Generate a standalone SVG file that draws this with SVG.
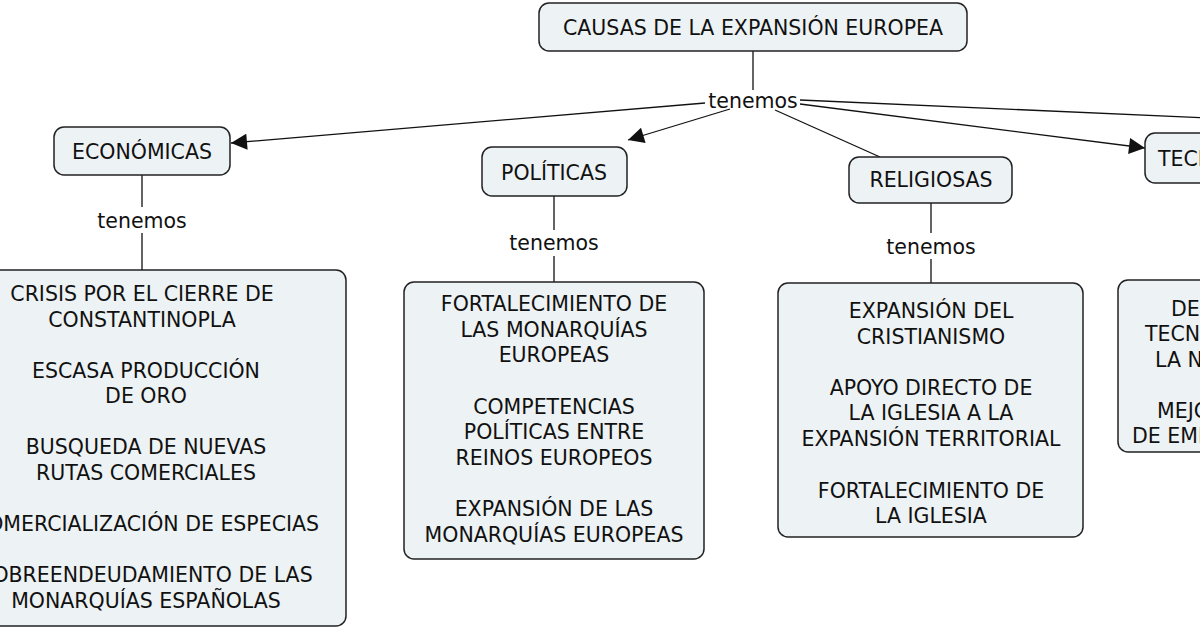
<svg xmlns="http://www.w3.org/2000/svg" width="1200" height="630" viewBox="0 0 1200 630">
<style>
.n{fill:#edf2f4;stroke:#222;stroke-width:1.5}
text{font-family:"DejaVu Sans",Verdana,sans-serif;font-size:20.5px;fill:#111;text-anchor:middle}
.l{stroke:#111;stroke-width:1.3;fill:none}
.a{marker-end:url(#a)}
</style>
<defs><marker id="a" viewBox="0 0 10 10" refX="10" refY="5" markerWidth="20" markerHeight="16" markerUnits="userSpaceOnUse" orient="auto"><path d="M0,0L10,5L0,10z" fill="#111"/></marker></defs>
<rect width="1200" height="630" fill="#fff"/>
<g id="connectors">
<path class="l" d="M753,51V90"/>
<path class="l a" d="M705,103L231,143"/>
<path class="l a" d="M730,109L628,140"/>
<path class="l" d="M775,110L880,157"/>
<path class="l a" d="M800,104L1145,148"/>
<path class="l" d="M800,100L1210,118"/>
<path class="l" d="M142,175V207M142,233V270"/>
<path class="l" d="M554,196V230M554,256V282"/>
<path class="l" d="M931,203V233M931,259V283"/>
<text x="753" y="108">tenemos</text>
<text x="142" y="228">tenemos</text>
<text x="554" y="250">tenemos</text>
<text x="931" y="254">tenemos</text>
</g>
<g id="root"><rect class="n" x="539" y="3" width="428" height="48" rx="10"/><text x="753" y="35">CAUSAS DE LA EXPANSIÓN EUROPEA</text></g>
<g id="eco"><rect class="n" x="54" y="127" width="176" height="48" rx="10"/><text x="142" y="159">ECONÓMICAS</text></g>
<g id="pol"><rect class="n" x="482" y="147" width="145" height="49" rx="10"/><text x="554" y="180">POLÍTICAS</text></g>
<g id="rel"><rect class="n" x="849" y="157" width="163" height="46" rx="10"/><text x="931" y="187">RELIGIOSAS</text></g>
<g id="tec"><rect class="n" x="1145" y="133" width="75" height="50" rx="10"/><text x="1158" y="166" style="text-anchor:start">TECNOLÓGICAS</text></g>
<g id="eco-d"><rect class="n" x="-12" y="270" width="358" height="356" rx="10"/>
<text x="142" y="301">CRISIS POR EL CIERRE DE</text><text x="142" y="327">CONSTANTINOPLA</text>
<text x="146" y="378">ESCASA PRODUCCIÓN</text><text x="146" y="403">DE ORO</text>
<text x="146" y="454">BUSQUEDA DE NUEVAS</text><text x="146" y="480">RUTAS COMERCIALES</text>
<text x="146" y="531">COMERCIALIZACIÓN DE ESPECIAS</text>
<text x="146" y="582">SOBREENDEUDAMIENTO DE LAS</text><text x="146" y="608">MONARQUÍAS ESPAÑOLAS</text></g>
<g id="pol-d"><rect class="n" x="404" y="282" width="300" height="277" rx="10"/>
<text x="554" y="311">FORTALECIMIENTO DE</text><text x="554" y="337">LAS MONARQUÍAS</text><text x="554" y="362">EUROPEAS</text>
<text x="554" y="414">COMPETENCIAS</text><text x="554" y="439">POLÍTICAS ENTRE</text><text x="554" y="465">REINOS EUROPEOS</text>
<text x="554" y="516">EXPANSIÓN DE LAS</text><text x="554" y="542">MONARQUÍAS EUROPEAS</text></g>
<g id="rel-d"><rect class="n" x="778" y="283" width="305" height="254" rx="10"/>
<text x="931" y="318">EXPANSIÓN DEL</text><text x="931" y="344">CRISTIANISMO</text>
<text x="931" y="395">APOYO DIRECTO DE</text><text x="931" y="420">LA IGLESIA A LA</text><text x="931" y="446">EXPANSIÓN TERRITORIAL</text>
<text x="931" y="498">FORTALECIMIENTO DE</text><text x="931" y="523">LA IGLESIA</text></g>
<g id="tec-d"><rect class="n" x="1118" y="280" width="110" height="172" rx="10"/>
<text x="1171" y="316" style="text-anchor:start">DESARROLLO</text><text x="1145" y="341" style="text-anchor:start">TECNOLÓGICO DE</text><text x="1155" y="367" style="text-anchor:start">LA NAVEGACIÓN</text>
<text x="1157" y="418" style="text-anchor:start">MEJORAS</text><text x="1132" y="443" style="text-anchor:start">DE EMBARCACIONES</text></g>
</svg>
